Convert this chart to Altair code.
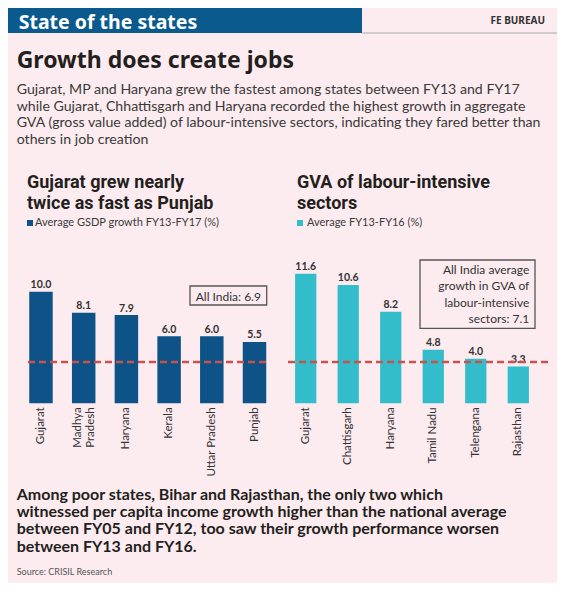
import altair as alt
import pandas as pd

# ---------------- data ----------------
gsdp_states = ["Gujarat", "Madhya\nPradesh", "Haryana", "Kerala", "Uttar Pradesh", "Punjab"]
gsdp_growth = [10.0, 8.1, 7.9, 6.0, 6.0, 5.5]
gva_states = ["Gujarat", "Chattisgarh", "Haryana", "Tamil Nadu", "Telengana", "Rajasthan"]
gva_growth = [11.6, 10.6, 8.2, 4.8, 4.0, 3.3]
all_india_gsdp = 6.9
all_india_gva = 7.1
# level (in bar units) at which the original graphic draws its dashed all-India line
dashed_line_level = [3.7]

header = "State of the states"
byline = "FE BUREAU"
headline = "Growth does create jobs"
intro_lines = [
    "Gujarat, MP and Haryana grew the fastest among states between FY13 and FY17",
    "while Gujarat, Chhattisgarh and Haryana recorded the highest growth in aggregate",
    "GVA (gross value added) of labour-intensive sectors, indicating they fared better than",
    "others in job creation",
]
left_title = ["Gujarat grew nearly", "twice as fast as Punjab"]
left_legend = "Average GSDP growth FY13-FY17 (%)"
left_note = f"All India: {all_india_gsdp}"
right_title = ["GVA of labour-intensive", "sectors"]
right_legend = "Average FY13-FY16 (%)"
right_note = ["All India average", "growth in GVA of", "labour-intensive", f"sectors: {all_india_gva}"]
footer_lines = [
    "Among poor states, Bihar and Rajasthan, the only two which",
    "witnessed per capita income growth higher than the national average",
    "between FY05 and FY12, too saw their growth performance worsen",
    "between FY13 and FY16.",
]
source = "Source: CRISIL Research"

# ---------------- style ----------------
PINK = "#fcecef"
BAND = "#0b5a8e"
BAR_BLUE = "#0e5388"
TEAL = "#33bdca"
RED = "#c9524e"
INK = "#231f20"
GREY = "#3a3a3a"
HEAD = "Noto Sans"
SUB = "Roboto"
BODY = "Lato"

W, H = 549, 575


def label(lines, x, y, size, weight="normal", color=INK, font=BODY, align="left", lh=None):
    txt = "\n".join(lines) if isinstance(lines, list) else lines
    kw = dict(align=align, baseline="alphabetic", fontSize=size, fontWeight=weight,
              color=color, font=font)
    if "\n" in txt:
        kw.update(lineBreak="\n", lineHeight=lh)
    return alt.Chart(pd.DataFrame({"t": [txt]})).mark_text(**kw).encode(
        x=alt.value(x), y=alt.value(y), text="t:N")


def box(x, x2, y, y2, fill=None, stroke=None, sw=1.0):
    kw = {}
    if fill:
        kw["fill"] = fill
    else:
        kw["fillOpacity"] = 0
    if stroke:
        kw["stroke"] = stroke
        kw["strokeWidth"] = sw
    return alt.Chart(pd.DataFrame({"a": [0]})).mark_rect(**kw).encode(
        x=alt.value(x), x2=alt.value(x2), y=alt.value(y), y2=alt.value(y2))


yscale = alt.Scale(domain=[0, 12], range=[395.3, 261.3], nice=False, zero=True)
NAME_SIZE = 11.5
NAME_LH = 13


def bar_group(states, values, color, xrange, pad_inner, rule_x):
    df = pd.DataFrame({"state": states, "value": values})
    df["multi"] = df["state"].str.contains("\n")
    xenc = alt.X("state:N", sort=states,
                 scale=alt.Scale(range=xrange, paddingInner=pad_inner, paddingOuter=0.2),
                 axis=None)
    yenc = alt.Y("value:Q", scale=yscale, axis=None)
    y0 = alt.Y(datum=0, scale=yscale, axis=None)
    base = alt.Chart(df)
    bars = base.mark_bar(color=color).encode(x=xenc, y=yenc, y2=alt.datum(0))
    vals = base.mark_text(baseline="alphabetic", dy=-3.5, fontSize=10.5, fontWeight="bold",
                          font=BODY, color="#333333").encode(
        x=xenc, y=yenc, text=alt.Text("value:Q", format=".1f"))
    single = base.transform_filter("!datum.multi").mark_text(
        angle=270, align="right", baseline="middle", dx=-4,
        fontSize=NAME_SIZE, font=BODY, color="#333333").encode(
        x=xenc, y=y0, text="state:N")
    # two-line names: first line's baseline placed so the pair is centred on the bar
    multi = base.transform_filter("datum.multi").mark_text(
        angle=270, align="right", baseline="alphabetic", dx=-4,
        dy=-NAME_LH / 2 + 0.3 * NAME_SIZE,
        fontSize=NAME_SIZE, font=BODY, color="#333333",
        lineBreak="\n", lineHeight=NAME_LH).encode(
        x=xenc, y=y0, text="state:N")
    rule = alt.Chart(pd.DataFrame({"lvl": dashed_line_level})).mark_rule(
        color=RED, strokeWidth=2.3, strokeDash=[7, 4]).encode(
        y=alt.Y("lvl:Q", scale=yscale, axis=None),
        x=alt.value(rule_x[0]), x2=alt.value(rule_x[1]))
    return alt.layer(bars, vals, single, multi, rule)


left = bar_group(gsdp_states, gsdp_growth, BAR_BLUE, [12.7, 266.8], 0.45, (20, 261))
right = bar_group(gva_states, gva_growth, TEAL, [278.6, 529.4], 0.5, (280, 540))

decor = [
    box(0, 354, 0, 25, fill=BAND),
    alt.Chart(pd.DataFrame({"a": [0]})).mark_rule(color="#a9a9a9", strokeWidth=1).encode(
        x=alt.value(354), x2=alt.value(W), y=alt.value(25)),
    label(header, 10.7, 21, 19.5, weight="bold", color="white", font=HEAD),
    label(byline, 537, 16, 10, weight="bold", color="#333333", font=HEAD, align="right"),
    label(headline, 8.7, 60.3, 23, weight="bold", color=INK, font=HEAD),
    label(intro_lines, 8.7, 86, 14.15, color=GREY, lh=16.5),
    label(left_title, 19, 180, 18, weight="bold", color=INK, font=SUB, lh=20.5),
    box(19, 25, 212, 218, fill=BAR_BLUE),
    label(left_legend, 27, 218, 11, color=GREY),
    label(right_title, 289, 180, 18, weight="bold", color=INK, font=SUB, lh=20.5),
    box(289, 295, 212, 218, fill=TEAL),
    label(right_legend, 299, 218, 11, color=GREY),
    box(182, 258.7, 278, 297, stroke="#555555", sw=1.3),
    label(left_note, 220.3, 292.5, 12, color="#333333", align="center"),
    box(412, 527, 252, 320.3, stroke="#555555", sw=1.3),
    label(right_note, 521.3, 266, 12, color="#333333", align="right", lh=16.4),
    label(footer_lines, 8.7, 491.7, 16, weight="bold", color=INK, lh=17.4),
    label(source, 8.7, 566.7, 9, color="#555555"),
]

chart = alt.layer(*decor, left, right).resolve_scale(x="independent").properties(
    width=W, height=H, background=PINK, padding=0,
    autosize=alt.AutoSizeParams(type="none"),
).configure_view(strokeWidth=0)

chart.save("out.html", embed_options={"renderer": "svg", "actions": False})
